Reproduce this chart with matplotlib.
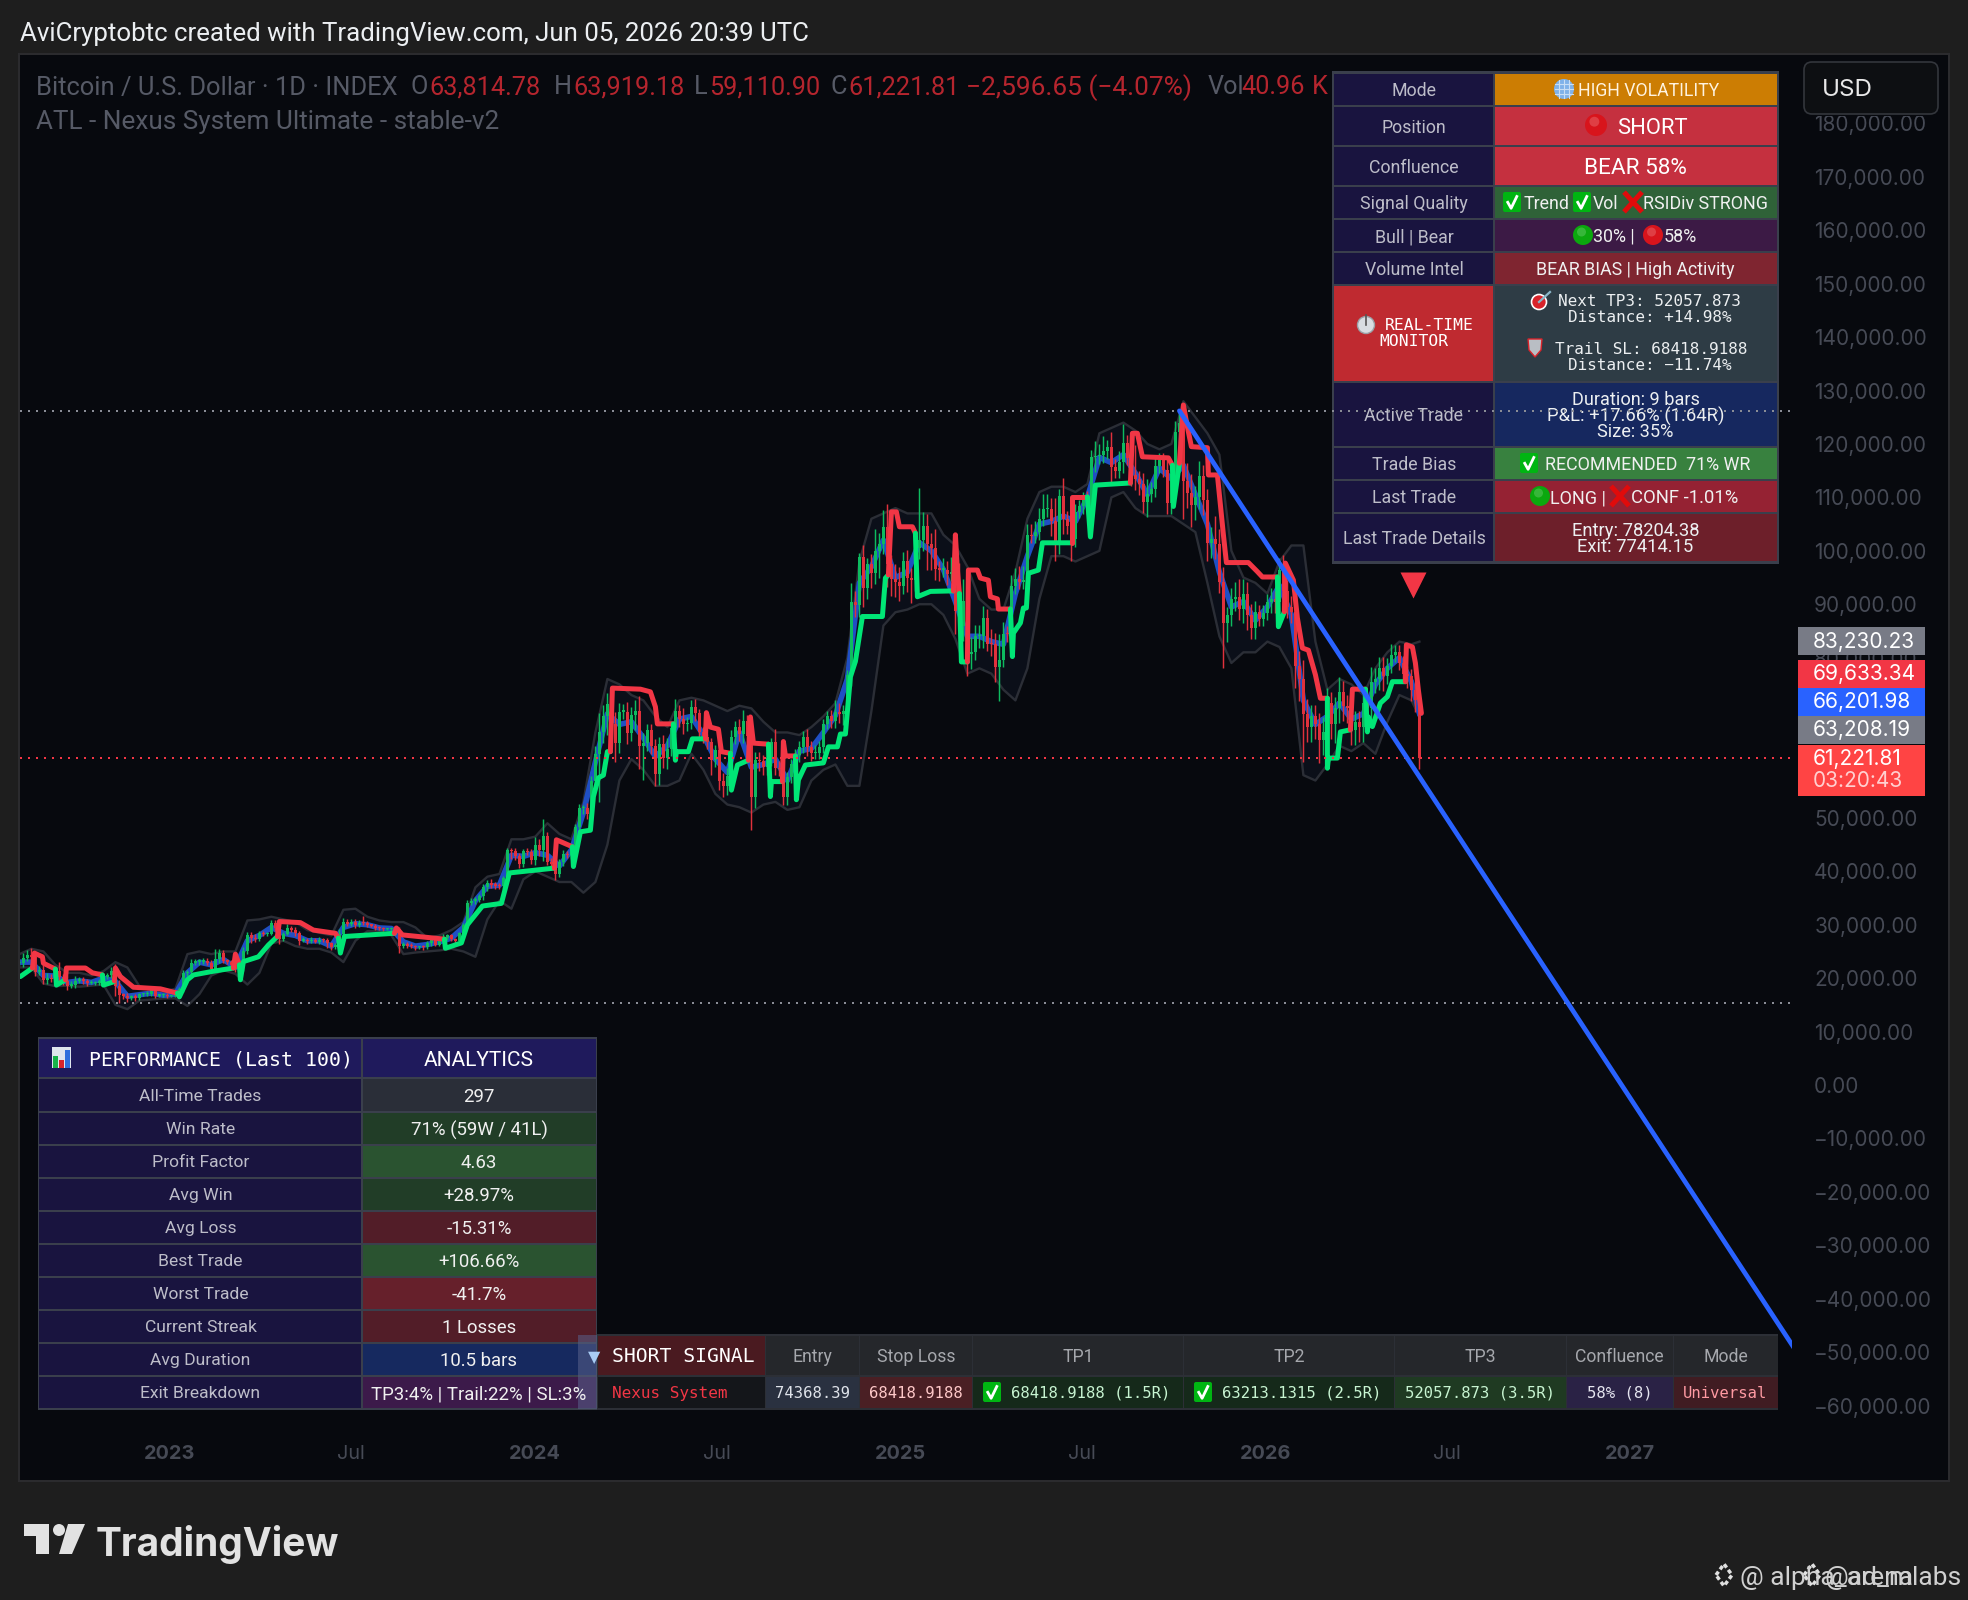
import numpy as np
import pandas as pd
import matplotlib
matplotlib.use("Agg")
import matplotlib.pyplot as plt
import matplotlib.dates as mdates
from matplotlib.patches import Rectangle, Circle, Polygon, FancyBboxPatch
from matplotlib.ticker import FixedLocator, FixedFormatter

# ---------- data ($k), one bar every 4 days from 2022-08-04 ----------
CLOSE_2022 = [22.8,23.8,24.3,23.9,21.2,21.5,19.6,
 20.1,19.8,21.3,20.2,19.5,18.6,18.8,19.5,
 19.6,19.5,19.1,19.1,19.1,19.5,20.3,20.5,
 21.3,18.5,16.8,16.7,16.3,16.6,16.2,
 17.0,17.0,17.1,17.8,16.7,16.8,16.9,16.6]
UP_2022 = [.5,.6,.7,.9,.5,.6,.7, .6,.5,.6,1.2,.4,.7,.5,.6, .4,.5,.3,.4,.3,.3,.4,.4, .6,.9,.8,.3,.4,.2,.3, .2,.2,.3,.3,.2,.2,.2,.2]
DN_2022 = [.4,.5,.4,.5,.6,.4,.5, .5,.4,.3,.5,.5,.6,.3,.4, .3,.4,.4,.2,.3,.3,.2,.3, .3,1.3,1.0,.4,.5,.3,.4, .2,.2,.2,.3,.3,.2,.2,.2]
CLOSE_2023 = [16.7,16.9,17.9,20.9,21.1,22.9,23.1,23.1,
 23.3,22.9,21.8,23.5,24.8,23.2,23.1,
 22.4,21.7,22.2,25.0,28.0,27.5,27.3,
 28.5,28.2,28.3,30.4,29.4,27.3,28.3,29.3,
 29.0,28.4,27.0,27.2,26.9,27.2,26.8,27.2,
 27.1,26.5,25.9,26.3,28.3,30.5,30.1,
 30.6,29.9,30.4,30.3,29.9,29.8,29.4,29.3,
 29.2,29.2,29.4,29.2,26.1,26.4,26.1,26.0,
 25.8,25.9,25.8,26.5,27.1,26.3,27.0,
 27.5,28.0,27.4,26.9,28.4,29.9,34.1,34.5,
 34.7,35.4,37.1,37.9,37.4,37.3,37.2,
 38.7,44.0,43.8,42.9,41.4,43.8,43.6,42.1]
UP_2023 = [.1,.2,.3,.4,.3,.5,.4,.3, .4,.4,.3,1.4,.5,.3,.3, .2,.3,.9,.6,.5,.5,.5, .2,.2,.3,.4,.3,.2,.3,.6, .3,.4,.3,.3,.2,.3,.2,.3, .2,.3,.2,.2,.6,.6,.4, .3,.3,.4,.9,.3,.2,.3,.2, .2,.2,.1,.2,.3,.2,.2,.3, .2,.1,.2,.3,.3,.2,.2, .5,.2,.2,.1,.2,.3,.4,.3, .4,.3,.4,.4,.5,.4,.4, .3,.3,.3,.4,.4,.3,.4,.4]
DN_2023 = [.1,.1,.2,.3,.4,.3,.3,.4, .3,.3,.5,.3,.5,.3,.3, .6,.4,.6,.6,.4,.7,.4, .3,.2,.2,.2,.4,.6,.3,.2, .3,.4,.5,.2,.3,.2,.2,.3, .3,.6,.4,.3,.2,.4,.3, .3,.3,.2,.2,.2,.2,.3,.2, .2,.1,.2,.2,1.0,.3,.3,.2, .4,.2,.4,.2,.3,.2,.2, .2,.3,.3,.2,.2,.3,.4,.3, .4,.3,.5,.6,.4,.4,.4, .3,.4,1.0,.5,.5,.4,.4,.5]
CLOSE_2024 = [45.0,44.0,46.6,41.8,41.3,39.5,41.8,43.3,
 43.0,44.3,48.3,51.8,51.8,50.7,57.0,
 62.0,66.1,69.0,71.4,67.6,64.0,69.9,69.9,
 65.9,69.3,70.0,63.4,64.0,66.4,63.4,
 58.2,63.9,61.2,62.9,66.9,70.1,68.5,67.6,
 67.7,70.8,69.6,66.0,65.1,64.2,60.8,62.7,
 57.0,56.0,57.9,65.1,67.1,65.8,68.2,
 65.4,54.0,60.9,60.6,59.5,61.2,64.2,59.4,
 59.1,53.9,57.6,60.0,61.7,63.2,65.2,63.3,
 62.1,62.2,63.2,67.6,69.0,68.2,69.9,
 69.4,70.0,76.7,90.4,89.8,98.9,93.0,97.5,
 95.8,99.9,101.2,104.5,97.5,94.7,94.2,93.4]
UP_2024 = [1.0,.8,2.3,.6,.5,.7,.3,.5, .3,.4,.4,.6,.5,.7,.6, 1.0,2.5,1.5,1.4,1.2,1.6,1.2,1.0, 1.3,1.0,1.5,2.0,1.3,.9,.8, 1.0,.9,1.2,1.5,.9,1.6,.8,1.5, .8,.9,1.0,.6,.7,.5,.6,.7, 1.3,1.0,1.0,1.0,.8,1.0,1.4, .8,1.2,1.0,1.0,.9,.8,.6,1.8, .9,.8,.7,.8,.9,.8,.8,1.0, .8,1.0,.9,.7,.7,.9,1.5, 1.2,.8,.7,2.5,1.5,.5,1.5,.8, 1.3,3.0,1.5,2.2,3.0,1.2,2.0,2.0]
DN_2024 = [.6,.8,1.5,.5,.8,.8,.4,.6, .4,.5,.5,.6,.7,.6,.8, 1.5,6.5,1.5,2.5,1.5,2.5,1.3,1.0, 1.5,1.1,2.0,3.0,4.5,1.0,1.0, 1.6,1.4,1.3,1.4,.9,1.0,1.0,1.3, 1.0,.8,1.0,1.0,.8,.9,2.0,.9, 1.3,1.5,1.2,.9,.9,1.0,1.3, 1.0,4.5,1.5,1.3,1.0,1.0,1.0,1.0, .9,1.0,1.0,.8,1.0,.9,.8,1.2, 1.0,.8,.9,.7,.7,1.0,1.0, 1.2,1.5,.7,1.4,1.5,1.5,2.5,1.5, 2.0,1.5,3.5,1.3,3.0,2.3,2.0,2.0]
CLOSE_2025 = [98.1,95.0,94.5,100.5,102.0,104.7,101.3,
 100.6,96.6,96.5,96.5,95.7,96.1,88.7,
 86.0,90.6,80.7,81.0,84.0,84.0,87.5,82.6,
 82.5,78.2,79.6,84.5,84.4,93.4,94.7,94.2,
 94.3,103.0,102.8,103.5,106.0,107.8,107.8,
 105.6,101.5,110.2,106.0,104.6,102.2,107.3,108.3,
 109.6,108.2,117.5,117.7,117.9,118.6,119.4,115.7,
 115.0,116.6,120.2,117.4,114.2,113.5,112.5,
 109.2,110.6,111.5,115.9,117.0,115.2,109.0,114.4,
 122.2,124.0,113.0,110.8,108.6,110.0,114.0,109.5,
 101.5,102.3,101.2,94.2,86.5,88.0,90.9,
 91.3,89.2,92.0,88.0,85.5,88.5,87.3,88.4]
UP_2025 = [1.2,1.5,1.3,1.0,7.0,1.8,1.5, 1.5,2.5,1.0,1.5,1.2,2.0,1.8, 6.5,3.0,2.0,2.0,1.5,1.5,1.5,1.2, 2.0,1.5,3.5,1.5,1.0,1.5,1.5,1.8, 2.0,1.5,1.5,1.5,1.5,2.0,2.0, 1.5,3.0,1.0,2.5,1.0,1.5,1.0,.8, 1.0,1.2,1.0,2.0,1.5,2.0,1.0,2.0, 1.0,1.5,2.5,1.0,1.5,4.0,1.0, 1.5,2.0,1.0,1.0,1.0,1.0,1.5,1.5, 1.5,1.6,2.0,2.5,2.5,1.5,2.0,1.5, 1.5,1.5,3.0,2.0,2.0,1.0,1.5, 2.0,2.5,2.0,1.5,1.5,1.5,1.0,1.0]
DN_2025 = [1.0,2.0,3.0,1.5,1.5,1.5,3.5, 3.0,1.5,1.5,1.0,1.5,1.0,3.0, 2.5,2.0,3.0,2.0,1.0,1.5,1.5,1.0, 1.5,2.0,4.5,1.0,1.0,2.0,1.0,1.0, 1.0,1.5,1.0,1.0,1.0,1.0,1.0, 2.0,2.5,1.5,2.0,1.0,3.0,1.0,.8, 1.0,1.0,1.5,2.0,1.0,1.0,1.0,2.0, 1.0,1.0,1.5,1.0,1.5,1.5,1.5, 1.5,2.0,1.0,1.0,1.0,1.0,1.5,1.5, 1.5,1.5,5.0,2.0,3.0,2.0,1.5,2.0, 2.5,2.0,2.0,1.5,6.0,2.5,1.5, 1.5,1.5,2.0,2.0,1.5,1.5,1.0,1.0]
CLOSE_2026 = [90.5,91.0,90.5,96.5,92.5,89.5,88.5,78.5,
 76.0,69.5,67.0,69.0,67.5,64.5,66.0,
 71.5,67.5,70.5,73.5,71.0,70.5,66.5,
 68.0,67.0,71.5,70.5,75.5,76.0,78.0,76.5,
 78.5,80.5,81.0,79.0,77.0,76.5,74.0,72.0,
 61.2]
UP_2026 = [1.0,1.5,1.0,1.5,2.0,1.5,1.5,2.0, 2.0,2.5,2.0,1.5,1.5,1.5,2.0, 2.0,1.5,1.5,2.0,1.5,1.5,2.0, 1.5,1.5,2.0,1.5,2.0,1.5,1.5,1.5, 1.0,1.5,1.0,1.0,1.0,1.0,1.0,1.0, .1]
DN_2026 = [1.0,1.5,1.5,1.5,1.0,1.5,1.5,3.0, 3.0,6.5,2.0,2.0,2.0,3.0,2.0, 2.0,2.0,2.5,2.0,2.0,2.0,2.0, 2.0,2.0,2.0,1.5,2.0,1.5,1.5,2.0, 1.0,1.0,1.0,1.0,1.0,1.5,1.5,1.5, 1.5]

# moving average and envelope ($k), one point every 12 days, last point 2026-06-04
MA_LINE = [23.0,23.0,20.5,20.4,19.2,19.5,19.2,20.0,19.4,16.6,16.9,17.2,16.8,17.0,21.0,23.0,22.5,23.5,22.0,27.0,
 28.0,29.5,28.4,28.0,27.0,27.0,26.0,29.5,30.2,30.0,29.4,29.3,26.8,26.0,26.3,26.8,27.5,29.5,34.5,37.2,
 37.4,43.0,42.8,43.5,43.0,41.0,44.0,51.0,60.5,69.5,67.5,68.0,65.0,61.5,63.5,68.5,69.0,65.5,61.0,58.5,
 66.0,59.5,60.0,61.0,57.0,62.5,63.0,66.0,69.2,76.0,94.0,97.0,102.0,95.0,96.0,101.5,100.0,96.5,90.5,84.0,
 84.0,83.0,82.5,92.0,99.0,105.0,105.5,106.5,105.5,110.0,117.5,116.5,118.0,114.5,110.5,115.5,113.5,116.0,110.5,105.0,
 96.0,89.5,90.5,87.0,89.5,93.5,88.0,72.0,67.5,69.0,71.5,68.5,69.5,75.0,78.0,80.0,75.5,69.6]
ENV_UP = [24.5,25.5,25.0,22.5,21.0,21.0,20.5,21.3,23.0,22.0,18.5,18.0,17.5,18.0,24.5,25.0,24.5,25.0,25.0,30.8,
 31.0,31.5,31.0,30.5,29.0,28.5,28.0,32.8,33.0,31.5,30.8,30.5,30.5,29.5,27.5,28.0,29.0,30.5,37.0,39.0,
 39.5,46.0,46.0,46.5,49.0,47.0,46.0,53.0,66.0,76.0,75.0,73.0,72.0,69.0,67.0,72.0,72.5,72.0,71.0,70.0,
 71.0,70.5,68.0,66.0,66.0,65.5,67.0,69.0,71.5,80.0,98.0,106.0,107.0,108.0,107.0,107.0,107.0,103.0,101.0,97.0,
 91.0,89.0,89.0,96.0,106.0,111.0,112.0,112.0,111.0,112.5,122.0,123.0,124.0,122.5,120.0,119.0,120.0,128.0,125.0,122.0,
 118.0,100.0,95.0,94.0,92.0,98.0,101.0,101.0,83.0,74.0,76.0,75.0,73.0,78.0,81.0,83.0,82.5,83.0]
ENV_LO = [22.0,22.0,19.0,18.5,18.6,18.4,18.6,18.8,15.0,14.2,15.8,16.0,16.2,16.2,14.8,17.0,20.5,21.5,20.8,18.8,
 21.0,26.5,27.0,26.0,25.5,25.5,24.8,23.0,27.0,28.8,28.8,28.0,24.5,24.8,25.0,25.2,25.5,25.0,24.0,31.0,
 34.5,33.0,38.5,40.0,39.0,38.0,38.0,36.0,38.0,45.0,57.0,61.0,59.0,56.0,56.0,57.0,62.0,59.0,54.5,52.5,
 52.0,51.0,52.5,53.0,51.5,52.0,57.0,59.0,60.0,56.0,56.0,70.0,86.0,88.5,89.0,90.0,90.0,88.0,83.5,77.0,
 78.0,77.0,74.0,72.0,78.0,91.0,99.0,99.0,98.0,99.0,100.0,110.0,111.0,108.0,106.5,106.5,106.5,105.0,103.5,94.0,
 84.0,79.0,81.0,81.0,83.0,82.0,78.0,58.0,57.0,60.0,63.5,62.5,64.0,62.0,68.0,73.0,72.0,69.0]

# supertrend-style stop: day (since 2023-01-01), price ($k); runs alternate long / short
ST_DAY = [-149,-137, -135,-127,-126,-114, -113,-104, -103,-84,-77,-67, -66,-56,-55, -54,-49,-36,-9,8,
 10,18,24,44,64, 66,70, 71,74,89,99,108, 110,131,144,166,169, 171,175,225, 227,233,275,
 276,292,298,313,332,340,365,385, 387,403, 404,411,421,424,429,434,438,441,
 443,471,481,486,488,504, 506,507,519,523,536, 537,541,549,552,561, 562,568,579, 581,584,599, 601,602,613, 614,616,626,
 627,629,636,654,659,668,671,676,681,686,693,713,716,719, 722,727,730,743,746, 748,761,784, 786,788,790, 792,798,
 799,808,811,819,821,828,829,841, 843,844,851,854,857,859,869,873,903, 903,918, 921,926,961,
 963,968,973,999,1003, 1004,1010, 1014,1018,1022,1038,1039,1048,1054,1057,1079,1088,1093,1108, 1109,1115,
 1116,1124,1128,1133,1139,1146,1151,1158, 1158,1159,1168,1171,1181, 1183,1196, 1198,1199,1203,1211,1218,1223,1236,
 1237,1243,1246,1249,1252]
ST_PRICE = [20.3,21.9, 24.7,24.0,22.8,21.7, 18.7,19.7, 21.9,21.9,21.0,20.6, 18.7,19.3,19.5, 21.9,20.3,18.3,18.0,17.2,
 16.5,19.7,20.6,21.3,21.9, 24.5,22.5, 19.7,23.1,24.0,26.2,27.8, 30.6,30.4,29.0,28.4,27.5, 24.7,27.8,28.4, 29.4,28.1,27.3,
 25.6,26.6,30.0,33.5,34.0,39.7,40.2,40.6, 45.9,44.6, 40.9,47.4,47.7,54.0,57.5,58.0,62.4,62.4,
 74.3,74.1,73.6,70.8,67.6,67.6, 60.8,62.4,62.4,64.8,64.8, 69.7,67.0,66.6,62.4,62.1, 55.2,59.9,60.8, 68.9,64.0,63.8, 54.0,56.8,56.8, 64.3,61.6,61.6,
 53.4,57.1,59.9,60.3,63.3,63.3,65.7,65.7,76.4,79.3,87.7,87.7,94.9,95.5, 107.3,107.3,104.5,104.5,103.3, 91.4,92.4,92.5, 103.0,96.4,92.0, 79.2,79.2,
 96.4,96.4,94.9,94.5,91.4,91.0,89.1,89.1, 80.2,84.6,86.5,89.3,89.3,95.8,96.4,101.5,101.5, 110.1,110.1, 102.6,112.3,112.7,
 122.0,122.0,117.6,117.4,116.0, 108.3,116.4, 127.3,123.2,119.5,119.3,114.2,114.2,103.0,97.8,97.8,96.1,95.1,95.1, 85.8,88.6,
 97.7,94.5,87.4,81.8,81.4,76.8,72.4,72.4, 59.3,61.2,61.2,66.1,66.5, 74.1,74.1, 66.1,68.9,67.1,71.5,72.7,75.5,75.5,
 82.4,82.0,79.0,73.9,69.6]
ST_RUN_LEN = [2,4,2,4,3,5,5,2,5,5,3,3,8,2,8,6,5,5,3,3,3,3,14,5,3,3,2,8,9,2,3,5,2,12,2,8,5,2,7,5]

PRICE_TICKS = list(range(-60000, 180001, 10000))
TIME_LABELS = ["2023", "Jul", "2024", "Jul", "2025", "Jul", "2026", "Jul", "2027"]
TIME_DATES = ["2023-01-01", "2023-07-01", "2024-01-01", "2024-07-01", "2025-01-01", "2025-07-01", "2026-01-01", "2026-07-01", "2027-01-01"]
LAST_LABELS = ["83,230.23", "69,633.34", "66,201.98", "63,208.19"]
LEVEL_HIGH, LEVEL_LOW, LAST_PRICE = 126200, 15350, 61221.81
TREND_DATES = ["2025-10-07", "2027-06-15"]
TREND_PRICES = [126200, -49600]
SIGNAL_DATE, SIGNAL_PRICE = "2026-05-29", 93600
WICK_READ_UNDER = 1.4  # wicks as first read came out short against the reference

PERF_LABELS = ["All-Time Trades","Win Rate","Profit Factor","Avg Win","Avg Loss","Best Trade","Worst Trade","Current Streak","Avg Duration","Exit Breakdown"]
PERF_VALUES = ["297","71% (59W / 41L)","4.63","+28.97%","-15.31%","+106.66%","-41.7%","1 Losses","10.5 bars","TP3:4% | Trail:22% | SL:3%"]

# ---------- colours ----------
FIG_BG, PANE = "#1e1e1e", "#07090e"
GREEN, RED, BLUE = "#00e676", "#f23645", "#2962ff"
GRID = "#3a3f4c"
NAVY = "#19143f"
LABEL = "#bdbdc9"

def num(d):
    return mdates.date2num(pd.Timestamp(d))

# ---------- figure and layers ----------
W, H = 1968, 1600
fig = plt.figure(figsize=(W/100, H/100), dpi=100, facecolor=FIG_BG)

def layer(z):
    a = fig.add_axes([0, 0, 1, 1], zorder=z)
    a.set_xlim(0, W); a.set_ylim(H, 0); a.axis("off")
    a.patch.set_alpha(0)
    return a

bg = layer(1)
fg = layer(10)

def rect(a, x0, y0, x1, y1, c, z=1, ec="none", lw=0, alpha=None):
    a.add_patch(Rectangle((x0, y0), x1-x0, y1-y0, fc=c, ec=ec, lw=lw, zorder=z, alpha=alpha))

def text(a, x, y, s, size=11.5, c="white", ha="center", font="Roboto", weight="normal", z=5, va="center_baseline"):
    return a.text(x, y, s, fontsize=size, color=c, ha=ha, va=va, family=font, weight=weight, zorder=z)

MONO = "DejaVu Sans Mono"

def check(x, y, s=9):
    bg.add_patch(FancyBboxPatch((x-s+2, y-s-1+2), 2*s-4, 2*s+2-4, boxstyle="round,pad=2", fc="#00b512", ec="none", zorder=6))
    bg.plot([x-s*.55, x-s*.1, x+s*.6], [y-s*.1, y+s*.7, y-s*.75], color="white", lw=2, zorder=7, solid_capstyle="butt")

def cross(x, y, s=9):
    for d in (1, -1):
        bg.plot([x-s, x+s], [y-d*s*1.1, y+d*s*1.1], color="#e00b0b", lw=3.6, zorder=7, solid_capstyle="butt")

def dot(x, y, r, c):
    bg.add_patch(Circle((x, y), r, fc=c, ec="none", zorder=6))
    bg.add_patch(Circle((x-r*.15, y-r*.3), r*.45, fc="white", alpha=.18, ec="none", zorder=7))

# ---------- pane ----------
rect(bg, 18, 53, 1950, 1482, "#2b2b2e")
rect(bg, 20, 55, 1948, 1480, PANE)

# ---------- top header ----------
text(bg, 20, 32, "AviCryptobtc created with TradingView.com, Jun 05, 2026 20:39 UTC", 18.6, "#eceff2", "left")
HG, HR = "#565a66", "#b5252e"
for x, s, c, fs in [(36, "Bitcoin / U.S. Dollar · 1D · INDEX", HG, 18.4), (410, "O", HG, 18.2), (429, "63,814.78", HR, 18.2), (554, "H", HG, 18.2), (573, "63,919.18", HR, 18.2),
                (694, "L", HG, 18.2), (709, "59,110.90", HR, 18.2), (831, "C", HG, 18.2), (848, "61,221.81", HR, 18.2), (966, "−2,596.65 (−4.07%)", HR, 18.9),
                (1208, "Vol", HG, 18.2), (1241, "40.96", HR, 18.2), (1312, "K", HR, 18.2)]:
    text(bg, x, 85, s, fs, c, "left")
text(bg, 36, 119.5, "ATL - Nexus System Ultimate - stable-v2", 18.8, HG, "left")

# ---------- right table ----------
RX0, RX1, RX2 = 1334, 1494, 1777
RY = [72.5, 105.7, 146, 185.8, 219, 252, 284.8, 381.8, 446.6, 479.7, 512.8, 561.8]
R_FILL = ["#cc7d03", "#c5303f", "#c5303f", "#2f6238", "#3c1a45", "#7f2530", "#2e3c45", "#16285f", "#38813f", "#952233", "#6d1f2a"]
R_NAMES = ["Mode", "Position", "Confluence", "Signal Quality", "Bull | Bear", "Volume Intel", "", "Active Trade", "Trade Bias", "Last Trade", "Last Trade Details"]
rect(bg, RX0-2, RY[0]-2, RX2+2, RY[-1]+2, GRID)
for i, (n, fill) in enumerate(zip(R_NAMES, R_FILL)):
    y0, y1 = RY[i]+1, RY[i+1]-1
    rect(bg, RX0, y0, RX1-1, y1, "#bf2a30" if i == 6 else NAVY, 2)
    rect(bg, RX1+1, y0, RX2, y1, fill, 2)
    if n:
        text(bg, (RX0+RX1)/2, (y0+y1)/2, n, 12.8, LABEL)
RC = (RX1+RX2)/2
bg.add_patch(Circle((1564, 89), 10, fc="#7fb2ea", ec="none", zorder=6))
for dy in (-5, 0, 5):
    bg.plot([1555, 1573], [89+dy, 89+dy], color="#c8def5", lw=.8, zorder=7)
for dx in (-5, 0, 5):
    bg.plot([1564+dx, 1564+dx], [80, 98], color="#c8def5", lw=.8, zorder=7)
text(bg, 1578, 89, "HIGH VOLATILITY", 12.7, "#fff3e0", "left")
dot(1596, 125, 11, "#d8141c")
text(bg, 1617, 125.5, "SHORT", 15.8, "white", "left")
text(bg, RC, 166, "BEAR 58%", 16.2)
check(1512, 202); text(bg, 1524, 202, "Trend", 12.8, "#f0f0f0", "left")
check(1582, 202); text(bg, 1593, 202, "Vol", 12.8, "#f0f0f0", "left")
cross(1633, 202); text(bg, 1643, 202, "RSIDiv STRONG", 12.9, "#f0f0f0", "left")
dot(1583, 235, 10, "#0ba80e"); text(bg, 1593, 235, "30% |", 12.9, "#f0f0f0", "left")
dot(1653, 235, 10, "#d8141c"); text(bg, 1664, 235, "58%", 12.9, "#f0f0f0", "left")
text(bg, RC, 268, "BEAR BIAS | High Activity", 12.8, "#f0f0f0")
bg.add_patch(Circle((1366, 325), 8.5, fc="#d9dde2", ec="#9aa0a6", lw=1, zorder=6))
bg.plot([1366, 1366], [315, 325], color="#555", lw=1.2, zorder=7)
text(bg, 1385, 324, "REAL-TIME", 11.8, "white", "left", MONO)
text(bg, 1414, 340, "MONITOR", 11.8, "white", "center", MONO)
bg.add_patch(Circle((1539, 302), 7.5, fc="#d8232a", ec="white", lw=1.2, zorder=6))
bg.plot([1539, 1550], [302, 292], color="#8bb7c9", lw=1.6, zorder=7)
text(bg, 1558, 300.5, "Next TP3: 52057.873", 11.5, "#eceff1", "left", MONO)
text(bg, 1650, 316.5, "Distance: +14.98%", 11.5, "#eceff1", "center", MONO)
bg.add_patch(Polygon([[1528, 339], [1542, 339], [1541, 350], [1535, 357], [1529, 350]], fc="#b9bec4", ec="#d8232a", lw=1, zorder=6))
text(bg, 1555, 348, "Trail SL: 68418.9188", 11.5, "#eceff1", "left", MONO)
text(bg, 1650, 364.5, "Distance: −11.74%", 11.5, "#eceff1", "center", MONO)
text(bg, RC, 398, "Duration: 9 bars", 13.1, "#eceff1")
text(bg, RC, 414, "P&L: +17.66% (1.64R)", 13.3, "#eceff1")
text(bg, RC, 430, "Size: 35%", 13.1, "#eceff1")
check(1529, 463); text(bg, 1545, 463, "RECOMMENDED  71% WR", 12.9, "#f0f0f0", "left")
dot(1540, 496, 10, "#0ba80e"); text(bg, 1550, 496, "LONG |", 13, "#f0f0f0", "left")
cross(1620, 496); text(bg, 1631, 496, "CONF -1.01%", 13.3, "#f0f0f0", "left")
text(bg, RC, 529, "Entry: 78204.38", 13.2, "#eceff1")
text(bg, RC, 545, "Exit: 77414.15", 13.2, "#eceff1")

# ---------- performance table ----------
PX0, PX1, PX2 = 39, 362, 596
PY = [1038.4, 1078.4, 1111.5, 1144.5, 1177.6, 1210.7, 1243.5, 1276.5, 1309.6, 1342.7, 1375.8, 1409]
P_FILL = ["#2a2e38", "#213d27", "#2a5330", "#213d27", "#521d28", "#2a5330", "#66202b", "#521d28", "#16295f", "#3c1a4a"]
rect(bg, PX0-1, PY[0]-1, PX2+1, PY[-1]+1, GRID)
rect(bg, PX0, PY[0]+1, PX1-1, PY[1]-1, "#1f1a5c", 2)
rect(bg, PX1+1, PY[0]+1, PX2, PY[1]-1, "#1f1a5c", 2)
rect(bg, 52, 1047, 71, 1068, "#dfe6ee", 3)
for x0, h, c in [(53, 12, "#18b34a"), (59, 8, "#d8232a"), (65, 18, "#2f6fdc")]:
    rect(bg, x0, 1068-h, x0+5, 1068, c, 4)
text(bg, 89, 1058, "PERFORMANCE (Last 100)", 14.3, "white", "left", MONO)
text(bg, (PX1+PX2)/2, 1059, "ANALYTICS", 15, "white")
for i, (n, v, fill) in enumerate(zip(PERF_LABELS, PERF_VALUES, P_FILL)):
    y0, y1 = PY[i+1]+1, PY[i+2]-1
    rect(bg, PX0, y0, PX1-1, y1, NAVY, 2)
    rect(bg, PX1+1, y0, PX2, y1, fill, 2)
    text(bg, (PX0+PX1)/2, (y0+y1)/2, n, 12.6, LABEL)
    text(bg, (PX1+PX2)/2, (y0+y1)/2, v, 13.4, "#f0f0f0")

# ---------- signal table ----------
SX = [597, 765.6, 859.7, 972.7, 1183.6, 1394.4, 1566.4, 1673, 1778.4]
SY0, SY1, SY2 = 1335, 1375.7, 1409.3
H_FILL = ["#4a1a20"] + ["#25272b"]*7
V_FILL = ["#14161a", "#2a3140", "#4a1f24", "#15291a", "#15291a", "#1f3a22", "#2a2245", "#401c22"]
H_TEXT = ["", "Entry", "Stop Loss", "TP1", "TP2", "TP3", "Confluence", "Mode"]
rect(bg, 597, SY0-1, 1778.4, SY2+1, "#2c2f36", 3)
rect(bg, 578, SY0, 597, SY2, "#59608a", 3, alpha=.55)
text(bg, 594, 1356, "▼", 11.5, "#a9cdf5", font="DejaVu Sans")
for i in range(8):
    rect(bg, SX[i]+.5, SY0+1, SX[i+1]-.5, SY1-1, H_FILL[i], 4)
    rect(bg, SX[i]+.5, SY1+1, SX[i+1]-.5, SY2-1, V_FILL[i], 4)
    if H_TEXT[i]:
        text(bg, (SX[i]+SX[i+1])/2, 1355, H_TEXT[i], 12.7, "#a6a8ad")
text(bg, 612, 1355, "SHORT SIGNAL", 14.2, "white", "left", MONO)
text(bg, 612, 1392, "Nexus System", 11.5, RED, "left", MONO)
text(bg, 812.5, 1392, "74368.39", 11.2, "#dfe3ea", font=MONO)
text(bg, 916, 1392, "68418.9188", 11.2, "#ffc9c9", font=MONO)
check(992, 1392); text(bg, 1011, 1392, "68418.9188 (1.5R)", 11.2, "#c8f5d2", "left", MONO)
check(1203, 1392); text(bg, 1222, 1392, "63213.1315 (2.5R)", 11.2, "#c8f5d2", "left", MONO)
text(bg, 1480, 1392, "52057.873 (3.5R)", 11.2, "#c8f5d2", font=MONO)
text(bg, 1620, 1392, "58% (8)", 11.2, "#e6e6f0", font=MONO)
text(bg, 1725.5, 1392, "Universal", 11.2, "#ff9aa2", font=MONO)

# ---------- footer ----------
LOGO = "#e2e2e2"
bg.add_patch(Polygon([[24, 1524], [49, 1524], [49, 1554], [36, 1554], [36, 1536], [24, 1536]], fc=LOGO, ec="none"))
bg.add_patch(Circle((59, 1530), 6, fc=LOGO, ec="none"))
bg.add_patch(Polygon([[68, 1524], [85, 1524], [72, 1554], [59, 1554]], fc=LOGO, ec="none"))
text(bg, 96, 1541, "TradingView", 28, LOGO, "left", "Inter", "bold")
for dx in (1724, 1812):
    bg.add_patch(Polygon([[dx-8, 1575], [dx, 1564], [dx+8, 1575], [dx, 1586]], fc="none", ec="#e0e0e0", lw=2.5, ls=(0, (1.2, .8))))
text(bg, 1740, 1575, "@ alpha_arena", 19, "#d0d0d0", "left", "Roboto")
text(bg, 1825, 1575, "@ad_mlabs", 19, "#d0d0d0", "left", "Roboto")

# ---------- price chart ----------
PX_L, PX_R, PX_T, PX_B = 20, 1792, 55, 1480
ax = fig.add_axes([PX_L/W, 1-PX_B/H, (PX_R-PX_L)/W, (PX_B-PX_T)/H], zorder=5)
ax.patch.set_alpha(0)
for s in ax.spines.values():
    s.set_visible(False)

close = np.concatenate([CLOSE_2022, CLOSE_2023, CLOSE_2024, CLOSE_2025, CLOSE_2026]) * 1000
up = np.concatenate([UP_2022, UP_2023, UP_2024, UP_2025, UP_2026]) * 1000 * WICK_READ_UNDER
dn = np.concatenate([DN_2022, DN_2023, DN_2024, DN_2025, DN_2026]) * 1000 * WICK_READ_UNDER
dates = mdates.date2num(pd.date_range("2022-08-04", periods=len(close), freq="4D"))
opens = np.r_[close[0], close[:-1]]
top, bot = np.maximum(opens, close), np.minimum(opens, close)
col = np.where(close >= opens, "#0dbb5f", "#e0313c")

md = list(pd.date_range("2022-08-04", periods=len(MA_LINE)-1, freq="12D")) + [pd.Timestamp("2026-06-04")]
md = mdates.date2num(md)
ma, eu, el = np.array(MA_LINE)*1000, np.array(ENV_UP)*1000, np.array(ENV_LO)*1000
ax.fill_between(md, el, eu, color="#0b0f19", lw=0, zorder=1)
ax.plot(md, eu, color="#2b2e36", lw=1.7, zorder=2)
ax.plot(md, el, color="#2b2e36", lw=1.7, zorder=2)
ax.plot(md, ma, color="#1f4fc4", lw=4, zorder=3, solid_joinstyle="round")
ax.vlines(dates, bot-dn, top+up, colors=col, lw=1.05, zorder=4)
ax.bar(dates, np.maximum(top-bot, 250), bottom=bot, width=2.2, color=col, lw=0, zorder=4)

st_x = num("2023-01-01") + np.array(ST_DAY, float)
st_y = np.array(ST_PRICE)*1000
i0 = 0
for j, n in enumerate(ST_RUN_LEN):
    i1 = i0 + n
    s0 = max(i0-1, 0)
    ax.plot(st_x[s0:i1], st_y[s0:i1], color=GREEN if j % 2 == 0 else RED, lw=3.6, zorder=6,
            solid_joinstyle="round", solid_capstyle="round")
    i0 = i1

DOTS = (0, (1, 3))
ax.axhline(LEVEL_HIGH, color="#8a8d96", lw=1.44, ls=DOTS, zorder=7)
ax.axhline(LEVEL_LOW, color="#8a8d96", lw=1.44, ls=DOTS, zorder=7)
ax.axhline(LAST_PRICE, color=RED, lw=1.44, ls=DOTS, zorder=7)
ax.plot([num(d) for d in TREND_DATES], TREND_PRICES, color=BLUE, lw=3.4, zorder=8, solid_capstyle="round")
ax.plot([num(SIGNAL_DATE)], [SIGNAL_PRICE], marker="v", ms=19, color=RED, mec="none", zorder=8)

ax.set_xlim(num("2023-01-01") - 149.4, num("2023-01-01") + 1622.6)
ax.set_ylim((1085-PX_B)*187.2, (1085-PX_T)*187.2)

ax.yaxis.tick_right()
ax.yaxis.set_major_locator(FixedLocator(PRICE_TICKS))
ax.yaxis.set_major_formatter(FixedFormatter([f"{v:,.2f}".replace("-", "−") for v in PRICE_TICKS]))
ax.tick_params(axis="y", length=0, pad=16, labelsize=15, labelcolor="#464a55")
ax.xaxis.set_major_locator(FixedLocator([num(d) for d in TIME_DATES]))
ax.xaxis.set_major_formatter(FixedFormatter(TIME_LABELS))
ax.tick_params(axis="x", length=0, pad=-25, labelsize=14.3, labelcolor="#464a55")
for t in ax.get_yticklabels():
    t.set_family("Inter")
for t, s in zip(ax.get_xticklabels(), TIME_LABELS):
    t.set_family("Inter")
    if s != "Jul":
        t.set_weight("bold")

# ---------- price-scale overlays ----------
rect(fg, 1793, 56, 1948, 116, PANE)
fg.add_patch(FancyBboxPatch((1808, 66), 126, 44, boxstyle="round,pad=4,rounding_size=8", fc="#0d0f12", ec="#33363c", lw=1.2))
text(fg, 1822, 88, "USD", 17.4, "#e8e8e8", "left", "Inter")
BOX = [(627, 655, "#787b86"), (660, 688, RED), (688, 716, BLUE), (716, 744, "#787b86")]
for (y0, y1, c), s in zip(BOX, LAST_LABELS):
    rect(fg, 1798, y0, 1925, y1, c)
    text(fg, 1813, (y0+y1)/2-1.5, s, 15, "white", "left", "Inter")
rect(fg, 1798, 745, 1925, 796, "#ff4444")
text(fg, 1813, 757, f"{LAST_PRICE:,.2f}", 15, "white", "left", "Inter")
text(fg, 1813, 779, "03:20:43", 15, "#ffd0d0", "left", "Inter")

fig.savefig("out.png", dpi=100, facecolor=FIG_BG)
